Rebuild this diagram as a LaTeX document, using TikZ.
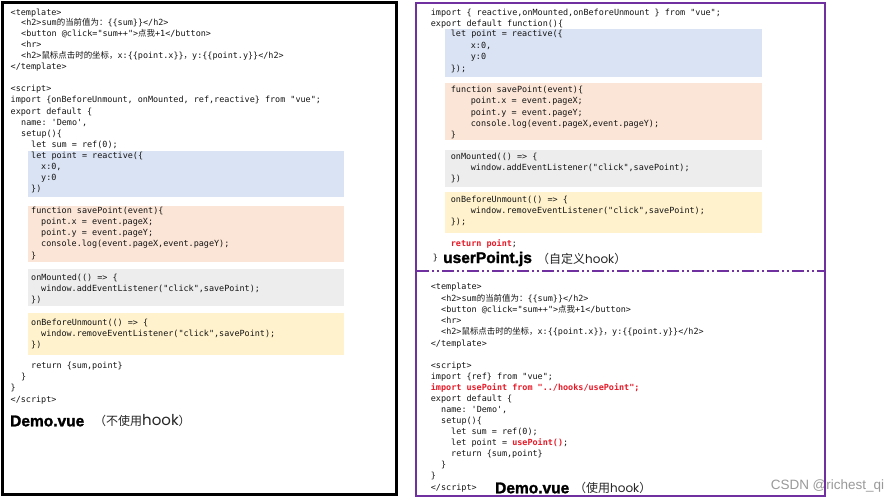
\documentclass[tikz,border=0pt]{standalone}
\usepackage{fontspec}
\setmonofont{DejaVu Sans Mono}
\newfontfamily\cjkfont{Noto Sans CJK SC}
\newfontfamily\capfont[FakeBold=1.6]{Liberation Sans Bold}
\newfontfamily\hookfont{Poppins}
\newfontfamily\wmfont{Liberation Sans}
\newcommand\zhtxt[1]{{\cjkfont #1}}
\definecolor{codered}{RGB}{232,26,40}
\definecolor{vpurple}{RGB}{112,48,160}
\definecolor{bxblue}{RGB}{218,227,243}
\definecolor{bxorange}{RGB}{251,229,214}
\definecolor{bxgray}{RGB}{237,237,237}
\definecolor{bxyellow}{RGB}{255,242,204}
\newcommand\redb[1]{\textcolor{codered}{\bfseries #1}}
\tikzset{
  code/.style={font=\ttfamily\fontsize{8.45}{10}\selectfont, inner sep=0pt, text height=6pt, text depth=2pt, anchor=west, text=black!92},
  capbold/.style={font=\capfont\fontsize{15.5}{16}\selectfont, inner sep=0pt, anchor=west, text=black},
  capzh/.style={font=\cjkfont\fontsize{12}{14}\selectfont, inner sep=0pt, anchor=west, text=black!85},
  watermark/.style={font=\wmfont\fontsize{13.5}{15}\selectfont, inner sep=0pt, text=black!40},
}
\newcommand\cl[4]{\node[code] (#1) at (#2,#3) {#4};}
\begin{document}
\begin{tikzpicture}[x=1pt,y=-1pt]
\useasboundingbox[fill=white] (0,0) rectangle (887,500);
% ---------- left panel boxes
\fill[bxblue]   (28,151) rectangle (344,197);
\fill[bxorange] (28,206) rectangle (344,262);
\fill[bxgray]   (28,269) rectangle (344,306);
\fill[bxyellow] (28,313) rectangle (344,355);
% ---------- right panel boxes
\fill[bxblue]   (445,29.3) rectangle (762,76.7);
\fill[bxorange] (445,83.3) rectangle (762,140);
\fill[bxgray]   (445,150) rectangle (762,186.7);
\fill[bxyellow] (445,191.7) rectangle (762,233.3);
% ---------- left code
\cl{L1}{10.5}{13.3}{<template>}
\cl{L2}{21}{24}{<h2>sum\zhtxt{的当前值为：}\{\{sum\}\}</h2>}
\cl{L3}{21}{35}{<button @click="sum++">\zhtxt{点我}+1</button>}
\cl{L4}{21}{46}{<hr>}
\cl{L5}{21}{57}{<h2>\zhtxt{鼠标点击时的坐标，}x:\{\{point.x\}\}\zhtxt{，}y:\{\{point.y\}\}</h2>}
\cl{L6}{10.5}{68}{</template>}
\cl{L7}{10.5}{90}{<script>}
\cl{L8}{10.5}{101}{import \{onBeforeUnmount, onMounted, ref,reactive\} from "vue";}
\cl{L9}{10.5}{112.3}{export default \{}
\cl{L10}{21}{123.3}{name: 'Demo',}
\cl{L11}{21}{135}{setup()\{}
\cl{L12}{31}{145.7}{let sum = ref(0);}
\cl{L13}{31}{156.7}{let point = reactive(\{}
\cl{L14}{41}{167.7}{x:0,}
\cl{L15}{41}{179}{y:0}
\cl{L16}{31}{190}{\})}
\cl{L17}{31}{212}{function savePoint(event)\{}
\cl{L18}{41}{222.7}{point.x = event.pageX;}
\cl{L19}{41}{234}{point.y = event.pageY;}
\cl{L20}{41}{245}{console.log(event.pageX,event.pageY);}
\cl{L21}{31}{256.3}{\}}
\cl{L22}{31}{278.7}{onMounted(() => \{}
\cl{L23}{41}{289.7}{window.addEventListener("click",savePoint);}
\cl{L24}{31}{300.7}{\})}
\cl{L25}{31}{323.3}{onBeforeUnmount(() => \{}
\cl{L26}{41}{334.3}{window.removeEventListener("click",savePoint);}
\cl{L27}{31}{345.5}{\})}
\cl{L28}{31}{366.7}{return \{sum,point\}}
\cl{L29}{21}{377.7}{\}}
\cl{L30}{10.5}{388.7}{\}}
\cl{L31}{10.5}{400}{</script>}
\node[capbold] (capL) at (10,421) {Demo.vue};
\node[capzh] (capLzh) at (94,421) {（不使用{\hookfont\fontsize{15}{16}\selectfont hook}）};
% ---------- right top code
\cl{R1}{430.7}{14}{import \{ reactive,onMounted,onBeforeUnmount \} from "vue";}
\cl{R2}{430.7}{24.5}{export default function()\{}
\cl{R3}{450.7}{35}{let point = reactive(\{}
\cl{R4}{470.7}{46.7}{x:0,}
\cl{R5}{470.7}{57.7}{y:0}
\cl{R6}{450.7}{69.3}{\});}
\cl{R7}{450.7}{90.7}{function savePoint(event)\{}
\cl{R8}{470.7}{102}{point.x = event.pageX;}
\cl{R9}{470.7}{113.3}{point.y = event.pageY;}
\cl{R10}{470.7}{124.7}{console.log(event.pageX,event.pageY);}
\cl{R11}{450.7}{136}{\}}
\cl{R12}{450.7}{157.7}{onMounted(() => \{}
\cl{R13}{470.7}{168.3}{window.addEventListener("click",savePoint);}
\cl{R14}{450.7}{180}{\})}
\cl{R15}{450.7}{201}{onBeforeUnmount(() => \{}
\cl{R16}{470.7}{212}{window.removeEventListener("click",savePoint);}
\cl{R17}{450.7}{222.7}{\});}
\cl{R18}{450.7}{244.3}{\redb{return point};}
\cl{R19}{432.7}{259}{\}}
\node[capbold] (capU) at (443,259) {userPoint.js};
\node[capzh] (capUzh) at (537,259) {（自定义{\hookfont hook}）};
% ---------- right bottom code
\cl{S1}{430.7}{287.3}{<template>}
\cl{S2}{441}{299.3}{<h2>sum\zhtxt{的当前值为：}\{\{sum\}\}</h2>}
\cl{S3}{441}{310.3}{<button @click="sum++">\zhtxt{点我}+1</button>}
\cl{S4}{441}{321.7}{<hr>}
\cl{S5}{441}{332.7}{<h2>\zhtxt{鼠标点击时的坐标，}x:\{\{point.x\}\}\zhtxt{，}y:\{\{point.y\}\}</h2>}
\cl{S6}{430.7}{344}{</template>}
\cl{S7}{430.7}{366}{<script>}
\cl{S8}{430.7}{377.3}{import \{ref\} from "vue";}
\cl{S9}{430.7}{388.3}{\redb{import usePoint from "../hooks/usePoint";}}
\cl{S10}{430.7}{399.3}{export default \{}
\cl{S11}{441}{410.7}{name: 'Demo',}
\cl{S12}{441}{421.7}{setup()\{}
\cl{S13}{451}{432.7}{let sum = ref(0);}
\cl{S14}{451}{443.7}{let point = \redb{usePoint()};}
\cl{S15}{451}{454.7}{return \{sum,point\}}
\cl{S16}{441}{465.7}{\}}
\cl{S17}{430.7}{476.7}{\}}
\cl{S18}{430.7}{488.3}{</script>}
\node[capbold] (capD) at (495,488) {Demo.vue};
\node[capzh] (capDzh) at (574,488) {（使用{\hookfont hook}）};
% ---------- watermark
\node[watermark] (wm) at (827.5,486) {CSDN @richest\_qi};
% ---------- frames
\draw[line width=3pt] (2.5,3) rectangle (396,494.5);
\draw[vpurple, line width=2.6pt] (416,3) rectangle (825,496);
\draw[vpurple, line width=2pt, dash pattern=on 12pt off 3pt on 2pt off 3pt on 2pt off 3pt] (417,271) -- (824,271);
\end{tikzpicture}
\end{document}
